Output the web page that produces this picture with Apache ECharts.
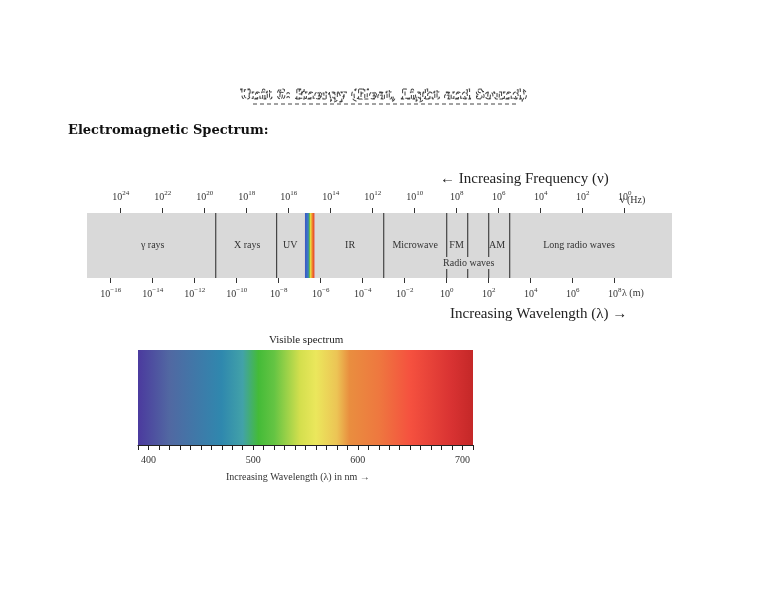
<!DOCTYPE html>
<html><head><meta charset="utf-8">
<script src="https://cdn.jsdelivr.net/npm/echarts@6/dist/echarts.min.js"></script>
<style>html,body{margin:0;padding:0;background:#fff}#c{width:768px;height:594px}</style>
</head><body><div id="c"></div>
<script>
// log10 of wavelength in metres
const bandMin = -17.13, bandMax = 10.73;
const wavelengthTicks = [-16,-14,-12,-10,-8,-6,-4,-2,0,2,4,6,8];
const frequencyTicks = [24,22,20,18,16,14,12,10,8,6,4,2,0];
const logC = 8.477; // log10(speed of light)
const boundaries = [-11, -8.1, -3, 0, 1, 2, 3];
const regionNames = ['γ rays','X rays','UV','IR','Microwave','FM','AM','Long radio waves','Radio waves'];
const regionCenters = [-14.0, -9.5, -7.45, -4.6, -1.5, 0.47, 2.4, 6.3, 1.05];
const regionRows = [0.5,0.5,0.5,0.5,0.5,0.5,0.5,0.5,0.23];
const visibleRange = [-6.75, -6.3];
// visible spectrum in nm
const nmMin = 390, nmMax = 710;
const nmLabels = [400,500,600,700];
const spectrumStops = [390,420,470,490,505,520,545,560,580,592,620,650,690,710];
const spectrumColors = ['#4b3a9e','#5168a2','#2f88ae','#42a2a8','#44bb38','#64c443','#d4df4e','#ebe75c','#ecc455','#e98e3f','#ee783f','#f5513f','#d83232','#c42828'];

const sup = v => '10{s|' + String(v).replace('-', '−') + '}';
const rich = {s:{fontSize:7, verticalAlign:'top', padding:[0,0,7,0], fontFamily:'Liberation Serif'}};
const serif = 'Liberation Serif';

const chart = echarts.init(document.getElementById('c'));
const grad = new echarts.graphic.LinearGradient(0,0,1,0, spectrumStops.map((s,i)=>({offset:(s-nmMin)/(nmMax-nmMin), color:spectrumColors[i]})));
const visGrad = new echarts.graphic.LinearGradient(0,0,1,0,[
 {offset:0,color:'#3b55c4'},{offset:0.35,color:'#3b7fc4'},{offset:0.45,color:'#44b04a'},{offset:0.6,color:'#f0e040'},{offset:0.75,color:'#f08a30'},{offset:1,color:'#e53a2a'}]);

chart.setOption({
 animation:false,
 grid:[{left:87, width:585, top:213, height:65},{left:138, width:335, top:350, height:95}],
 xAxis:[
  {gridIndex:0, type:'value', min:bandMin, max:bandMax, position:'bottom',
   axisLine:{show:false}, splitLine:{show:false},
   axisTick:{customValues:wavelengthTicks, length:5, lineStyle:{color:'#333'}},
   axisLabel:{customValues:wavelengthTicks, formatter:sup, rich, fontSize:10, fontFamily:serif, color:'#333', margin:9}},
  {gridIndex:0, type:'value', min:logC-bandMax, max:logC-bandMin, inverse:true, position:'top',
   axisLine:{show:false}, splitLine:{show:false},
   axisTick:{customValues:frequencyTicks, length:5, lineStyle:{color:'#333'}},
   axisLabel:{customValues:frequencyTicks, formatter:sup, rich, fontSize:10, fontFamily:serif, color:'#333', margin:9}},
  {gridIndex:1, type:'value', min:nmMin, max:nmMax, interval:10,
   axisLine:{lineStyle:{color:'#222'}}, splitLine:{show:false},
   axisTick:{length:5, lineStyle:{color:'#222'}},
   axisLabel:{customValues:nmLabels, fontSize:10, fontFamily:serif, color:'#333', margin:10}}
 ],
 yAxis:[{gridIndex:0,type:'value',min:0,max:1,show:false},{gridIndex:1,type:'value',min:0,max:1,show:false}],
 series:[
  {type:'custom', xAxisIndex:0, yAxisIndex:0, data:[[bandMin,bandMax]], silent:true,
   renderItem:(p,api)=>{const a=api.coord([api.value(0),1]),b=api.coord([api.value(1),0]);
    return {type:'rect',shape:{x:a[0],y:a[1],width:b[0]-a[0],height:b[1]-a[1]},style:{fill:'#d9d9d9'}};}},
  {type:'custom', xAxisIndex:0, yAxisIndex:0, data:boundaries.map(b=>[b]), silent:true, z:3,
   renderItem:(p,api)=>{const a=api.coord([api.value(0),1]),b=api.coord([api.value(0),0]);
    return {type:'line',shape:{x1:a[0],y1:a[1],x2:b[0],y2:b[1]},style:{stroke:'#444',lineWidth:1.2}};}},
  {type:'custom', xAxisIndex:0, yAxisIndex:0, data:[visibleRange], silent:true, z:4,
   renderItem:(p,api)=>{const a=api.coord([api.value(0),1]),b=api.coord([api.value(1),0]);
    return {type:'rect',shape:{x:a[0],y:a[1],width:b[0]-a[0],height:b[1]-a[1]},style:{fill:visGrad}};}},
  {type:'custom', xAxisIndex:0, yAxisIndex:0, data:regionNames.map((n,i)=>[regionCenters[i],regionRows[i],n]), silent:true, z:5,
   renderItem:(p,api)=>{const c=api.coord([api.value(0),api.value(1)]);
    return {type:'text',x:c[0],y:c[1],style:{text:regionNames[p.dataIndex],align:'center',verticalAlign:'middle',fontSize:10,fontFamily:serif,fill:'#333',backgroundColor:p.dataIndex===8?'#d9d9d9':null,padding:[1,1]}};}},
  {type:'custom', xAxisIndex:2, yAxisIndex:1, data:[[nmMin,nmMax]], silent:true,
   renderItem:(p,api)=>{const a=api.coord([api.value(0),1]),b=api.coord([api.value(1),0]);
    return {type:'rect',shape:{x:a[0],y:a[1],width:b[0]-a[0],height:b[1]-a[1]},style:{fill:grad}};}}
 ],
 graphic:[
  {type:'text',left:'center',top:89,style:{text:'Unit 6: Energy (Heat, Light and Sound)',font:'bold 13px "DejaVu Serif"',fill:'#111'}},
  {type:'line',shape:{x1:253,y1:104,x2:516,y2:104},style:{stroke:'#111',lineWidth:1}},
  {type:'text',left:68,top:124,style:{text:'Electromagnetic Spectrum:',font:'bold 13px "DejaVu Serif"',fill:'#111'}},
  {type:'text',left:440,top:172,style:{text:'← Increasing Frequency (ν)',font:'15px "Liberation Serif"',fill:'#222'}},
  {type:'text',left:620,top:195,style:{text:'ν (Hz)',font:'10px "Liberation Serif"',fill:'#333'}},
  {type:'text',left:622,top:288,style:{text:'λ (m)',font:'10px "Liberation Serif"',fill:'#333'}},
  {type:'text',left:450,top:307,style:{text:'Increasing Wavelength (λ) →',font:'15px "Liberation Serif"',fill:'#222'}},
  {type:'text',left:269,top:335,style:{text:'Visible spectrum',font:'11px "Liberation Serif"',fill:'#222'}},
  {type:'text',left:226,top:472,style:{text:'Increasing Wavelength (λ) in nm →',font:'10px "Liberation Serif"',fill:'#333'}}
 ]
});

// dashed connectors from the visible strip to the enlarged spectrum
const pL = chart.convertToPixel({xAxisIndex:0,yAxisIndex:0},[visibleRange[0],0]);
const pR = chart.convertToPixel({xAxisIndex:0,yAxisIndex:0},[visibleRange[1],0]);
const qL = chart.convertToPixel({xAxisIndex:2,yAxisIndex:1},[nmMin,1]);
const qR = chart.convertToPixel({xAxisIndex:2,yAxisIndex:1},[nmMax,1]);
const dash = {stroke:'#444',lineWidth:1,lineDash:[4,3],fill:null};
chart.setOption({graphic:[
 {type:'polyline',shape:{points:[[pL[0],pL[1]],[pL[0],pL[1]+22],[qL[0],qL[1]-10],[qL[0],qL[1]]]},style:dash},
 {type:'polyline',shape:{points:[[pR[0],pR[1]],[pR[0],pR[1]+20],[qR[0],qR[1]-10],[qR[0],qR[1]]]},style:dash}
]});
</script></body></html>
